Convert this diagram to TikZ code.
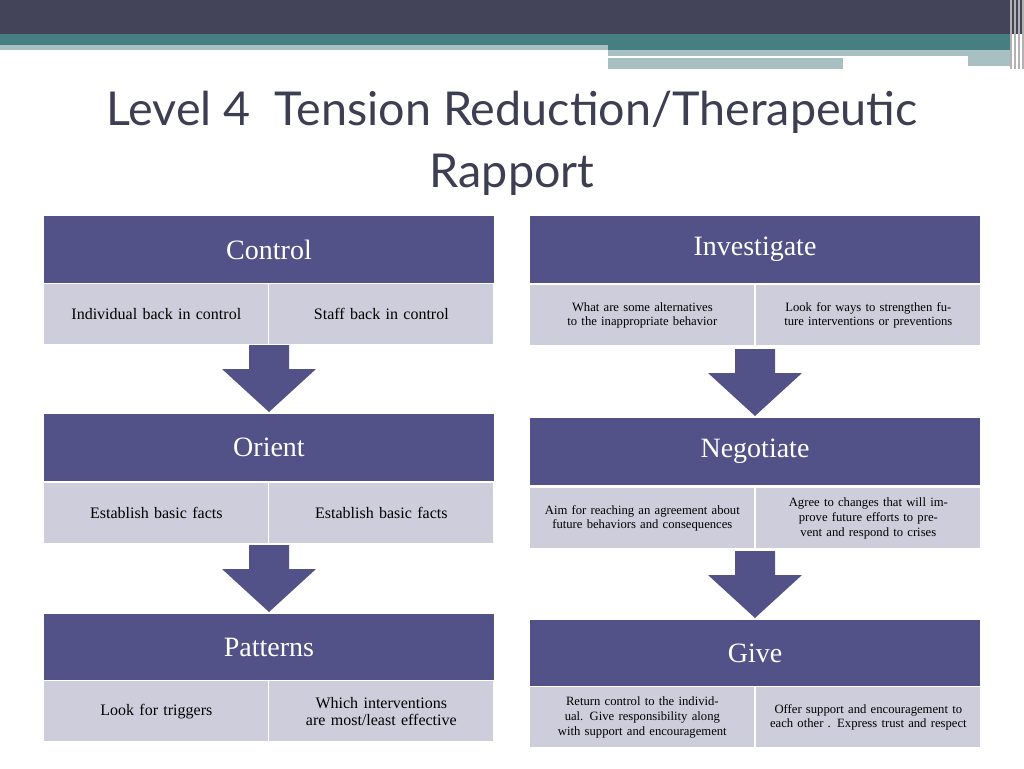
\documentclass[tikz,border=0pt]{standalone}
\usepackage{fontspec}
\usetikzlibrary{calc}
\setmainfont{Liberation Serif}
\newfontfamily\titlefont{Lato}
\definecolor{barDark}{HTML}{43435A}
\definecolor{barTeal}{HTML}{457F82}
\definecolor{barLight}{HTML}{A8C0C2}
\definecolor{headPurple}{HTML}{525288}
\definecolor{cellGray}{HTML}{CDCDDB}
\definecolor{titleInk}{HTML}{3E3E52}
\tikzset{
  head/.style={fill=headPurple, text=white, draw=white, line width=1pt, anchor=north west,
    minimum width=338pt, minimum height=51pt, inner sep=0pt, font=\fontsize{21}{24}\selectfont},
  cell/.style={fill=cellGray, draw=white, line width=1pt, anchor=north west,
    minimum width=169pt, minimum height=46pt, inner sep=2pt, align=center, text width=160pt,
    font=\fontsize{12}{13}\selectfont},
  smallcell/.style={cell, font=\fontsize{9.5}{11}\selectfont},
  downarrow/.style={fill=headPurple}
}
\begin{document}
\begin{tikzpicture}[x=0.75pt, y=-0.75pt]
	\useasboundingbox (0,0) rectangle (1024,768);
	% top banner
	\fill[barDark] (0,0) rectangle (1024,34);
	\fill[barTeal] (0,34) rectangle (1010,45);
	\fill[barTeal] (608,45) rectangle (1010,50);
	\fill[barLight] (0,45) rectangle (608,50);
	\fill[barLight] (608,50) rectangle (1010,56);
	\fill[barLight] (608,58) rectangle (843,69);
	\fill[barLight] (968,56) rectangle (1010,66);
	\foreach \xx in {1010,1014,1018,1022}
		\fill[gray!60] (\xx,0) rectangle ++(1.5,69);
	% title
	\draw node at (512,112) (title1) {\titlefont\fontsize{35}{40}\selectfont\color{titleInk}Level 4\ \ Tension Reduction/Therapeutic};
	\draw node at (512,175) (title2) {\titlefont\fontsize{35}{40}\selectfont\color{titleInk}Rapport};

	% left column
	\draw node[head] at (43,215) (control) {Control};
	\draw node[cell] at (43,283) (control1) {Individual back in control};
	\draw node[cell] at (268,283) (control2) {Staff back in control};
	\draw node[head] at (43,413) (orient) {Orient};
	\draw node[cell] at (43,482) (orient1) {Establish basic facts};
	\draw node[cell] at (268,482) (orient2) {Establish basic facts};
	\draw node[head] at (43,613) (patterns) {Patterns};
	\draw node[cell] at (43,680) (patterns1) {Look for triggers};
	\draw node[cell] at (268,680) (patterns2) {Which interventions are most/least effective};

	% right column
	\draw node[head] at (529,215) (investigate) {Investigate};
	\draw node[smallcell] at (529,284) (investigate1) {What are some alternatives to the inappropriate behavior};
	\draw node[smallcell] at (755,284) (investigate2) {Look for ways to strengthen future interventions or preventions};
	\draw node[head] at (529,417) (negotiate) {Negotiate};
	\draw node[smallcell] at (529,487) (negotiate1) {Aim for reaching an agreement about future behaviors and consequences};
	\draw node[smallcell] at (755,487) (negotiate2) {Agree to changes that will improve future efforts to prevent and respond to crises};
	\draw node[head] at (529,619) (give) {Give};
	\draw node[smallcell] at (529,686) (give1) {Return control to the individual. Give responsibility along with support and encouragement};
	\draw node[smallcell] at (755,686) (give2) {Offer support and encouragement to each other . Express trust and respect};

	% arrows between blocks
	\foreach \dst in {orient, patterns, negotiate, give}
		\fill[downarrow] ($(\dst.north)+(-20,-68)$) -- ++(40,0) -- ++(0,24) -- ++(27,0)
			-- ($(\dst.north)+(0,-1)$) -- ++(-47,-43) -- ++(27,0) -- cycle;
\end{tikzpicture}
\end{document}
